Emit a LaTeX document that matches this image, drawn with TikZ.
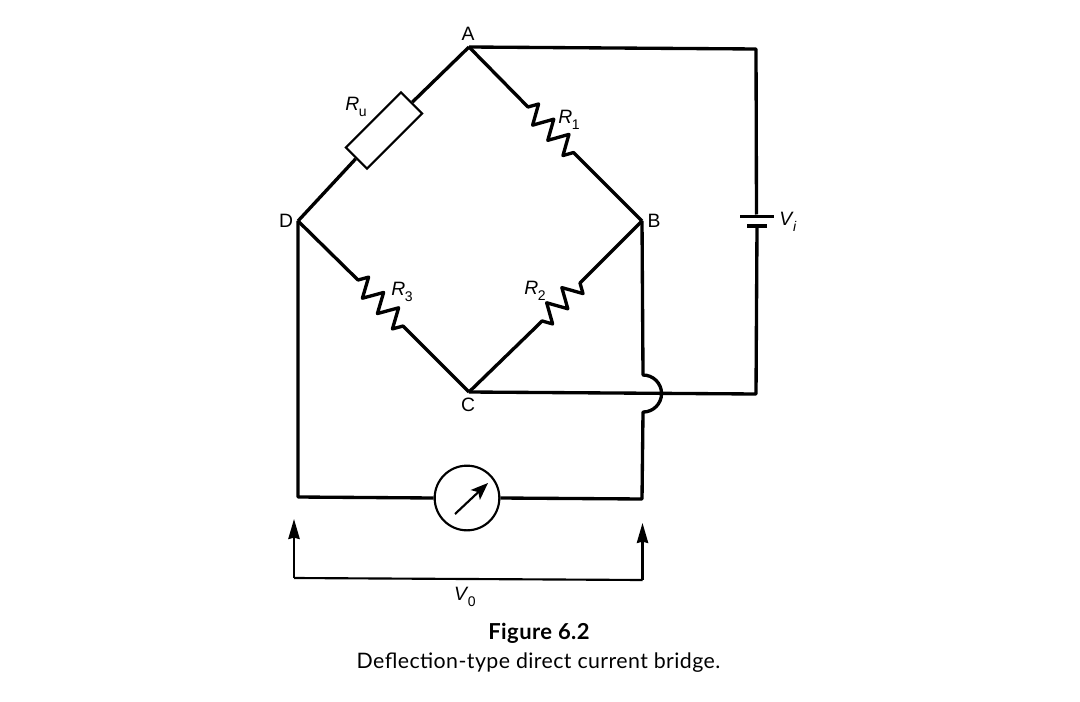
\documentclass[tikz,border=0pt]{standalone}
\usepackage{fontspec}
\setmainfont{Liberation Sans}
\newfontfamily\captionfont[LetterSpace=2]{Lato}
\usetikzlibrary{arrows.meta,decorations.pathmorphing}
\newcommand{\sublabel}[2]{\textit{#1}\kern-.5pt\raisebox{-.3em}{\fontsize{10.5}{10.5}\selectfont #2}}
\tikzset{
  wire/.style={line width=2.5pt, line join=round},
  thinwire/.style={line width=1.6pt},
  zig/.style={decoration={zigzag, segment length=16.1pt, amplitude=7.2pt}, decorate},
  term/.style={font=\fontsize{14.5}{16}\selectfont, inner sep=0pt},
  plate/.style={fill=black, inner sep=0pt, minimum height=2.6pt},
  uptip/.style={-{Stealth[length=15pt, width=8.5pt, inset=1pt]}},
}
\begin{document}
\begin{tikzpicture}[x=0.75pt, y=-0.75pt]
\useasboundingbox (0,0) rectangle (1080,702);
\coordinate (a) at (469,47);
\coordinate (b) at (642,221);
\coordinate (c) at (469,392);
\coordinate (d) at (298,221);
\coordinate (topright) at (756,49);
\coordinate (lowright) at (756,394);
\coordinate (lowleft) at (298,497);
\coordinate (lowmid) at (642,499);
\coordinate (hump) at (643,375);
\coordinate (r1s) at (528,107);
\coordinate (r1e) at (574,153);
\coordinate (r2s) at (580,283);
\coordinate (r2e) at (536,327);
\coordinate (r3s) at (358,280);
\coordinate (r3e) at (404,327);
\node[draw, thinwire, fill=white, rotate=45, minimum width=58.5pt, minimum height=22.5pt, inner sep=0pt] (ru) at (384,130.5) {};
\node[draw, thinwire, circle, minimum size=48.5pt, inner sep=0pt] (meter) at (467,498) {};
\node[plate, minimum width=25.5pt] (platelong) at (756.5,216.5) {};
\node[plate, minimum width=15pt] (plateshort) at (757,226) {};
\foreach \start/\zs/\ze/\finish in {a/r1s/r1e/b, b/r2s/r2e/c, d/r3s/r3e/c}
  \draw[wire] (\start) -- (\zs) decorate[zig] {-- (\ze)} -- (\finish);
\draw[wire] (a) -- (ru.east);
\draw[wire] (ru.west) -- (d);
\draw[wire] (a) -- (topright) -- (platelong);
\draw[wire] (plateshort) -- (lowright) -- (c);
\draw[wire] (d) -- (lowleft) -- (meter.west);
\draw[wire] (b) -- (hump) arc[start angle=90, end angle=-90, radius=13.9pt] -- (lowmid) -- (meter.east);
\coordinate (needlefrom) at (455,514);
\coordinate (needleto) at (488,483);
\draw[thinwire, -{Stealth[length=13pt, width=10pt, inset=3pt]}] (needlefrom) -- (needleto);
\coordinate (voleft) at (294,578);
\coordinate (voright) at (642.5,580);
\coordinate (vlefttip) at (294,519);
\coordinate (vrighttip) at (642.5,523);
\draw[thinwire, uptip] (voleft) -- (vlefttip);
\draw[thinwire, uptip] (voright) -- (vrighttip);
\draw[thinwire] (voleft) -- (voright);
\foreach \name/\pos/\lab in {la/{468,34}/A, lb/{654,221}/B, lc/{468,405}/C, ld/{286,221}/D,
    lru/{356,107}/{\sublabel{R}{u}}, lr1/{569,120}/{\sublabel{R}{1}}, lr2/{535,291}/{\sublabel{R}{2}}, lr3/{402,292}/{\sublabel{R}{3}},
    lvi/{788,222}/{\sublabel{V}{\textit{i}}}, lvo/{465,597}/{\sublabel{V}{0}}}
  \node[term] (\name) at (\pos) {\lab};
\node[font=\captionfont\bfseries\fontsize{16.5}{18}\selectfont, inner sep=0pt] (figlabel) at (539,633) {Figure 6.2};
\node[font=\captionfont\fontsize{16}{18}\selectfont, inner sep=0pt] (figtext) at (538.5,663) {Deflection-type direct current bridge.};
\end{tikzpicture}
\end{document}
